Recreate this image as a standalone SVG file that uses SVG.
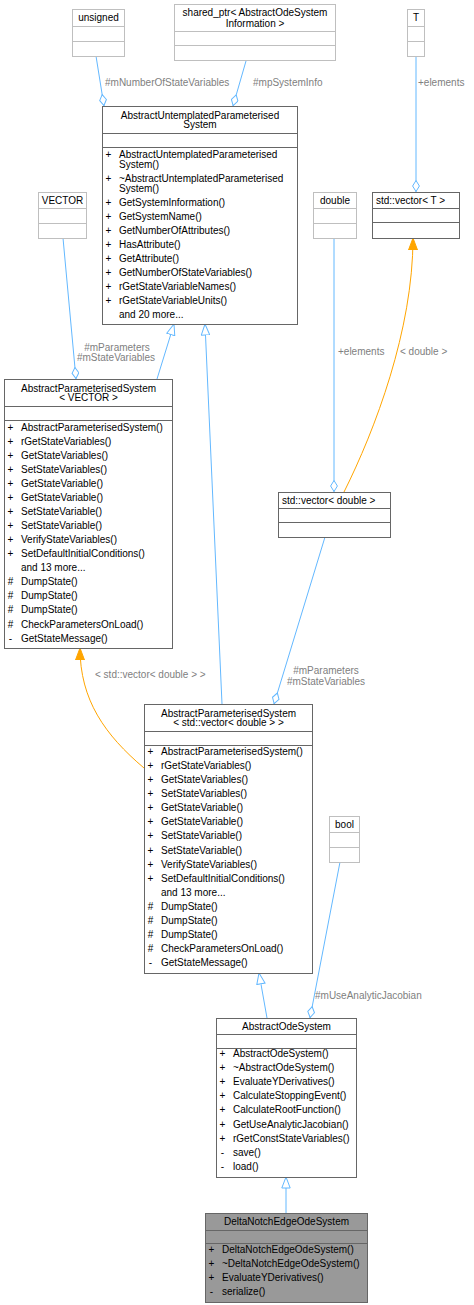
<svg xmlns="http://www.w3.org/2000/svg" width="474" height="1305" viewBox="0 0 474 1305">
<style>
text{font-family:"Liberation Sans",Arial,sans-serif;font-size:10px;fill:#000}
.t{text-anchor:middle}
.lbl{fill:#808080}
.lc{fill:#808080;text-anchor:middle}
.v{text-anchor:middle}
.box{fill:#fff;stroke:#666;stroke-width:1}
.ext{fill:#fff;stroke:#bfbfbf;stroke-width:1}
.cur{fill:#999;stroke:#666;stroke-width:1}
.dv{stroke:#666;stroke-width:1}
.dx{stroke:#bfbfbf;stroke-width:1}
.e{fill:none;stroke:#63b8ff;stroke-width:1}
.o{fill:none;stroke:#ffa500;stroke-width:1}
</style>
<defs>
<marker id="dia" viewBox="0 0 12 8" refX="12" refY="4" markerWidth="12" markerHeight="8" markerUnits="userSpaceOnUse" orient="auto">
<path d="M0.5,4 L6,0.6 L11.5,4 L6,7.4 Z" fill="#fff" stroke="#63b8ff" stroke-width="1"/>
</marker>
<marker id="tri" viewBox="0 0 12 10" refX="11.5" refY="5" markerWidth="12" markerHeight="10" markerUnits="userSpaceOnUse" orient="auto">
<path d="M0.5,0.8 L11.5,5 L0.5,9.2 Z" fill="#fff" stroke="#63b8ff" stroke-width="1"/>
</marker>
<marker id="arr" viewBox="0 0 12 10" refX="12" refY="5" markerWidth="12" markerHeight="10" markerUnits="userSpaceOnUse" orient="auto">
<path d="M0,0.5 L12,5 L0,9.5 Z" fill="#ffa500" stroke="#ffa500" stroke-width="1"/>
</marker>
</defs>

<g id="edges">
<path class="e" d="M96,56 L104,106" marker-end="url(#dia)"/>
<path class="e" d="M246,61 L233,106" marker-end="url(#dia)"/>
<path class="e" d="M416,56 L416,192" marker-end="url(#dia)"/>
<path class="e" d="M63,238 L76,379" marker-end="url(#dia)"/>
<path class="e" d="M334,238 L334,492" marker-end="url(#dia)"/>
<path class="e" d="M325,537 L274,704" marker-end="url(#dia)"/>
<path class="e" d="M340,862 L310,1018" marker-end="url(#dia)"/>
<path class="e" d="M157,379 L174,324" marker-end="url(#tri)"/>
<path class="e" d="M222,704 L205,324" marker-end="url(#tri)"/>
<path class="e" d="M267,1018 L259,973" marker-end="url(#tri)"/>
<path class="e" d="M286,1213 L286,1177" marker-end="url(#tri)"/>
<path class="o" d="M344,492 C375,430 413,330 413,238" marker-end="url(#arr)"/>
<path class="o" d="M144,768 C105,735 80,700 80,648" marker-end="url(#arr)"/>
<text class="lbl" x="105" y="85.5">#mNumberOfStateVariables</text>
<text class="lbl" x="253" y="85.5">#mpSystemInfo</text>
<text class="lbl" x="418" y="85.5">+elements</text>
<text class="lc" x="117" y="350.5">#mParameters</text>
<text class="lc" x="116" y="360.5">#mStateVariables</text>
<text class="lbl" x="338" y="354.5">+elements</text>
<text class="lbl" x="400" y="354.5">&lt; double &gt;</text>
<text class="lc" x="326" y="673.5">#mParameters</text>
<text class="lc" x="326" y="684.5">#mStateVariables</text>
<text class="lbl" x="95" y="677.5">&lt; std::vector&lt; double &gt; &gt;</text>
<text class="lbl" x="315" y="998.5">#mUseAnalyticJacobian</text>
</g>

<g id="unsigned">
<rect class="ext" x="72.5" y="9.5" width="52" height="47"/>
<line class="dx" x1="72.5" y1="26.5" x2="124.5" y2="26.5"/>
<line class="dx" x1="72.5" y1="41.5" x2="124.5" y2="41.5"/>
<text class="t" x="98.5" y="21">unsigned</text>
</g>

<g id="shared_ptr">
<rect class="ext" x="174.5" y="4.5" width="161" height="56"/>
<line class="dx" x1="174.5" y1="31.5" x2="335.5" y2="31.5"/>
<line class="dx" x1="174.5" y1="45.5" x2="335.5" y2="45.5"/>
<text class="t" x="255" y="16">shared_ptr&lt; AbstractOdeSystem</text>
<text class="t" x="255" y="27">Information &gt;</text>
</g>

<g id="T">
<rect class="ext" x="407.5" y="9.5" width="17" height="47"/>
<line class="dx" x1="407.5" y1="26.5" x2="424.5" y2="26.5"/>
<line class="dx" x1="407.5" y1="41.5" x2="424.5" y2="41.5"/>
<text class="t" x="416" y="21">T</text>
</g>

<g id="AbstractUntemplatedParameterisedSystem">
<rect class="box" x="102.5" y="106.5" width="195" height="218"/>
<line class="dv" x1="102.5" y1="133.5" x2="297.5" y2="133.5"/>
<line class="dv" x1="102.5" y1="147.5" x2="297.5" y2="147.5"/>
<text class="t" x="200" y="118.5">AbstractUntemplatedParameterised</text>
<text class="t" x="200" y="128">System</text>
<text class="v" x="108.5" y="157.5">+</text><text x="119" y="157.5">AbstractUntemplatedParameterised</text>
<text x="119" y="167.5">System()</text>
<text class="v" x="108.5" y="181.5">+</text><text x="119" y="181.5">~AbstractUntemplatedParameterised</text>
<text x="119" y="191.5">System()</text>
<text class="v" x="108.5" y="205.5">+</text><text x="119" y="205.5">GetSystemInformation()</text>
<text class="v" x="108.5" y="219.5">+</text><text x="119" y="219.5">GetSystemName()</text>
<text class="v" x="108.5" y="233.5">+</text><text x="119" y="233.5">GetNumberOfAttributes()</text>
<text class="v" x="108.5" y="247.5">+</text><text x="119" y="247.5">HasAttribute()</text>
<text class="v" x="108.5" y="261.5">+</text><text x="119" y="261.5">GetAttribute()</text>
<text class="v" x="108.5" y="275.5">+</text><text x="119" y="275.5">GetNumberOfStateVariables()</text>
<text class="v" x="108.5" y="289.5">+</text><text x="119" y="289.5">rGetStateVariableNames()</text>
<text class="v" x="108.5" y="303.5">+</text><text x="119" y="303.5">rGetStateVariableUnits()</text>
<text x="119" y="317.5">and 20 more...</text>
</g>

<g id="VECTOR">
<rect class="ext" x="38.5" y="192.5" width="48" height="46"/>
<line class="dx" x1="38.5" y1="208.5" x2="86.5" y2="208.5"/>
<line class="dx" x1="38.5" y1="223.5" x2="86.5" y2="223.5"/>
<text class="t" x="62.5" y="203.5">VECTOR</text>
</g>

<g id="double">
<rect class="ext" x="313.5" y="192.5" width="43" height="46"/>
<line class="dx" x1="313.5" y1="208.5" x2="356.5" y2="208.5"/>
<line class="dx" x1="313.5" y1="223.5" x2="356.5" y2="223.5"/>
<text class="t" x="335" y="203.5">double</text>
</g>

<g id="vectorT">
<rect class="box" x="372.5" y="192.5" width="87" height="46"/>
<line class="dv" x1="372.5" y1="208.5" x2="459.5" y2="208.5"/>
<line class="dv" x1="372.5" y1="222.5" x2="459.5" y2="222.5"/>
<text x="376" y="203.5">std::vector&lt; T &gt;</text>
</g>

<g id="AbstractParameterisedSystemVECTOR">
<rect class="box" x="4.5" y="379.5" width="168" height="269"/>
<line class="dv" x1="4.5" y1="406.5" x2="172.5" y2="406.5"/>
<line class="dv" x1="4.5" y1="420.5" x2="172.5" y2="420.5"/>
<text class="t" x="88.5" y="391.5">AbstractParameterisedSystem</text>
<text class="t" x="88.5" y="401">&lt; VECTOR &gt;</text>
<text class="v" x="10.5" y="430.5">+</text><text x="21" y="430.5">AbstractParameterisedSystem()</text>
<text class="v" x="10.5" y="444.6">+</text><text x="21" y="444.6">rGetStateVariables()</text>
<text class="v" x="10.5" y="458.6">+</text><text x="21" y="458.6">GetStateVariables()</text>
<text class="v" x="10.5" y="472.7">+</text><text x="21" y="472.7">SetStateVariables()</text>
<text class="v" x="10.5" y="486.8">+</text><text x="21" y="486.8">GetStateVariable()</text>
<text class="v" x="10.5" y="500.9">+</text><text x="21" y="500.9">GetStateVariable()</text>
<text class="v" x="10.5" y="514.9">+</text><text x="21" y="514.9">SetStateVariable()</text>
<text class="v" x="10.5" y="529">+</text><text x="21" y="529">SetStateVariable()</text>
<text class="v" x="10.5" y="543.1">+</text><text x="21" y="543.1">VerifyStateVariables()</text>
<text class="v" x="10.5" y="557.1">+</text><text x="21" y="557.1">SetDefaultInitialConditions()</text>
<text x="21" y="571.2">and 13 more...</text>
<text class="v" x="10.5" y="585.3">#</text><text x="21" y="585.3">DumpState()</text>
<text class="v" x="10.5" y="599.3">#</text><text x="21" y="599.3">DumpState()</text>
<text class="v" x="10.5" y="613.4">#</text><text x="21" y="613.4">DumpState()</text>
<text class="v" x="10.5" y="627.5">#</text><text x="21" y="627.5">CheckParametersOnLoad()</text>
<text class="v" x="10.5" y="641.6">-</text><text x="21" y="641.6">GetStateMessage()</text>
</g>

<g id="vectorDouble">
<rect class="box" x="278.5" y="492.5" width="112" height="45"/>
<line class="dv" x1="278.5" y1="508.5" x2="390.5" y2="508.5"/>
<line class="dv" x1="278.5" y1="522.5" x2="390.5" y2="522.5"/>
<text x="282" y="503.5">std::vector&lt; double &gt;</text>
</g>

<g id="AbstractParameterisedSystemStdVector">
<rect class="box" x="144.5" y="704.5" width="168" height="269"/>
<line class="dv" x1="144.5" y1="731.5" x2="312.5" y2="731.5"/>
<line class="dv" x1="144.5" y1="745.5" x2="312.5" y2="745.5"/>
<text class="t" x="228.5" y="716.5">AbstractParameterisedSystem</text>
<text class="t" x="228.5" y="726">&lt; std::vector&lt; double &gt; &gt;</text>
<text class="v" x="150.5" y="755">+</text><text x="161" y="755">AbstractParameterisedSystem()</text>
<text class="v" x="150.5" y="769.1">+</text><text x="161" y="769.1">rGetStateVariables()</text>
<text class="v" x="150.5" y="783.1">+</text><text x="161" y="783.1">GetStateVariables()</text>
<text class="v" x="150.5" y="797.2">+</text><text x="161" y="797.2">SetStateVariables()</text>
<text class="v" x="150.5" y="811.3">+</text><text x="161" y="811.3">GetStateVariable()</text>
<text class="v" x="150.5" y="825.4">+</text><text x="161" y="825.4">GetStateVariable()</text>
<text class="v" x="150.5" y="839.4">+</text><text x="161" y="839.4">SetStateVariable()</text>
<text class="v" x="150.5" y="853.5">+</text><text x="161" y="853.5">SetStateVariable()</text>
<text class="v" x="150.5" y="867.6">+</text><text x="161" y="867.6">VerifyStateVariables()</text>
<text class="v" x="150.5" y="881.6">+</text><text x="161" y="881.6">SetDefaultInitialConditions()</text>
<text x="161" y="895.7">and 13 more...</text>
<text class="v" x="150.5" y="909.8">#</text><text x="161" y="909.8">DumpState()</text>
<text class="v" x="150.5" y="923.8">#</text><text x="161" y="923.8">DumpState()</text>
<text class="v" x="150.5" y="937.9">#</text><text x="161" y="937.9">DumpState()</text>
<text class="v" x="150.5" y="952">#</text><text x="161" y="952">CheckParametersOnLoad()</text>
<text class="v" x="150.5" y="966.1">-</text><text x="161" y="966.1">GetStateMessage()</text>
</g>

<g id="bool">
<rect class="ext" x="329.5" y="816.5" width="30" height="46"/>
<line class="dx" x1="329.5" y1="832.5" x2="359.5" y2="832.5"/>
<line class="dx" x1="329.5" y1="847.5" x2="359.5" y2="847.5"/>
<text class="t" x="344.5" y="827.5">bool</text>
</g>

<g id="AbstractOdeSystem">
<rect class="box" x="216.5" y="1018.5" width="140" height="159"/>
<line class="dv" x1="216.5" y1="1034.5" x2="356.5" y2="1034.5"/>
<line class="dv" x1="216.5" y1="1048.5" x2="356.5" y2="1048.5"/>
<text class="t" x="286.5" y="1029.5">AbstractOdeSystem</text>
<text class="v" x="222.5" y="1056.5">+</text><text x="233" y="1056.5">AbstractOdeSystem()</text>
<text class="v" x="222.5" y="1070.7">+</text><text x="233" y="1070.7">~AbstractOdeSystem()</text>
<text class="v" x="222.5" y="1084.9">+</text><text x="233" y="1084.9">EvaluateYDerivatives()</text>
<text class="v" x="222.5" y="1099.1">+</text><text x="233" y="1099.1">CalculateStoppingEvent()</text>
<text class="v" x="222.5" y="1113.3">+</text><text x="233" y="1113.3">CalculateRootFunction()</text>
<text class="v" x="222.5" y="1127.5">+</text><text x="233" y="1127.5">GetUseAnalyticJacobian()</text>
<text class="v" x="222.5" y="1141.7">+</text><text x="233" y="1141.7">rGetConstStateVariables()</text>
<text class="v" x="222.5" y="1155.9">-</text><text x="233" y="1155.9">save()</text>
<text class="v" x="222.5" y="1170.1">-</text><text x="233" y="1170.1">load()</text>
</g>

<g id="DeltaNotchEdgeOdeSystem">
<rect class="cur" x="205.5" y="1213.5" width="162" height="89"/>
<line class="dv" x1="205.5" y1="1230.5" x2="367.5" y2="1230.5"/>
<line class="dv" x1="205.5" y1="1243.5" x2="367.5" y2="1243.5"/>
<text class="t" x="286.5" y="1225">DeltaNotchEdgeOdeSystem</text>
<text class="v" x="211.5" y="1252.5">+</text><text x="222" y="1252.5">DeltaNotchEdgeOdeSystem()</text>
<text class="v" x="211.5" y="1266.5">+</text><text x="222" y="1266.5">~DeltaNotchEdgeOdeSystem()</text>
<text class="v" x="211.5" y="1280.5">+</text><text x="222" y="1280.5">EvaluateYDerivatives()</text>
<text class="v" x="211.5" y="1294.5">-</text><text x="222" y="1294.5">serialize()</text>
</g>
</svg>
